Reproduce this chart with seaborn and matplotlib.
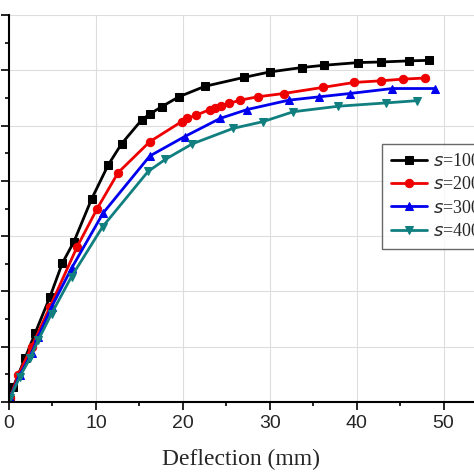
import numpy as np
import pandas as pd
import seaborn as sns
import matplotlib.pyplot as plt
from matplotlib.ticker import MultipleLocator, NullFormatter

sns.set_theme(style="whitegrid")

# (load in grid units, labels are cropped)
x100 = [0.11, 0.5, 1.84, 2.99, 4.71, 6.13, 7.47, 9.5, 11.42, 12.95, 15.25, 16.21, 17.55, 19.54,
        22.53, 27.0, 30.0, 33.7, 36.2, 40.2, 42.8, 46.0, 48.3]
y100 = [0.04, 0.28, 0.79, 1.24, 1.9, 2.51, 2.9, 3.67, 4.29, 4.67, 5.1, 5.21, 5.34, 5.52,
        5.71, 5.87, 5.97, 6.05, 6.09, 6.14, 6.15, 6.17, 6.18]
x200 = [0.11, 1.07, 2.6, 4.71, 7.85, 10.15, 12.56, 16.21, 19.85, 20.5, 21.57, 23.1, 23.7, 24.4,
        25.3, 26.6, 28.6, 31.6, 36.1, 39.7, 42.8, 45.3, 47.9]
y200 = [0.07, 0.49, 1.0, 1.72, 2.81, 3.5, 4.15, 4.71, 5.07, 5.13, 5.19, 5.29, 5.31, 5.35,
        5.4, 5.46, 5.52, 5.58, 5.69, 5.78, 5.81, 5.84, 5.86]
x300 = [0.11, 1.26, 2.6, 3.37, 4.9, 7.2, 10.84, 16.2, 20.2, 24.3, 27.4, 32.2, 35.7, 39.2, 44.1, 49.0]
y300 = [0.07, 0.49, 0.88, 1.18, 1.72, 2.42, 3.42, 4.45, 4.8, 5.13, 5.29, 5.46, 5.52, 5.58, 5.67, 5.67]
x400 = [0.11, 1.26, 2.41, 3.37, 4.9, 7.2, 10.77, 16.0, 18.0, 21.1, 25.8, 29.2, 32.7, 37.9, 43.4, 46.9]
y400 = [0.07, 0.46, 0.79, 1.12, 1.6, 2.27, 3.17, 4.17, 4.39, 4.67, 4.95, 5.07, 5.25, 5.35, 5.41, 5.45]

series = [("$s$=100", x100, y100, "black", "s"),
          ("$s$=200", x200, y200, "#ee0000", "o"),
          ("$s$=300", x300, y300, "#0000ee", "^"),
          ("$s$=400", x400, y400, "#117f7f", "v")]

fig = plt.figure(figsize=(4.74, 4.74), dpi=100)
ax = fig.add_axes([9/474, 72/474, 1 - 9/474, 387/474])

for lab, xs, ys, c, m in series:
    df = pd.DataFrame({"x": xs, "y": ys})
    sns.lineplot(data=df, x="x", y="y", ax=ax, color=c, marker=m, markersize=6,
                 markeredgecolor=c, linewidth=2, label=lab, sort=False)

ax.set_xlim(0, 53.5)
ax.set_ylim(0, 7)
ax.xaxis.set_major_locator(MultipleLocator(10))
ax.xaxis.set_minor_locator(MultipleLocator(5))
ax.yaxis.set_major_locator(MultipleLocator(1))
ax.yaxis.set_minor_locator(MultipleLocator(0.5))
ax.yaxis.set_major_formatter(NullFormatter())
ax.grid(True, which="major", color="#dddddd", linewidth=0.8)
for sp in ["left", "bottom"]:
    ax.spines[sp].set_color("black")
    ax.spines[sp].set_linewidth(1.5)
ax.spines["top"].set_visible(False)
ax.spines["right"].set_visible(False)
ax.tick_params(which="both", direction="out", color="black", left=True, bottom=True,
               width=1.2, labelsize=14)
ax.tick_params(which="major", length=6)
ax.tick_params(which="minor", length=3)
for t in ax.get_xticklabels():
    t.set_family("Liberation Sans")
ax.set_xlabel("Deflection (mm)", family="Liberation Serif", fontsize=17, labelpad=12)
ax.set_ylabel("")

leg = ax.legend(loc="upper left", bbox_to_anchor=(382/474, 1 - 144/474),
                bbox_transform=fig.transFigure, frameon=True, fancybox=False,
                prop={"family": "Liberation Serif", "size": 13}, handlelength=2.0,
                handletextpad=0.3, borderpad=0.5, borderaxespad=0, labelspacing=0.35)
leg.get_frame().set_edgecolor("#444444")
leg.get_frame().set_linewidth(1)

fig.savefig("out.png", dpi=100)
